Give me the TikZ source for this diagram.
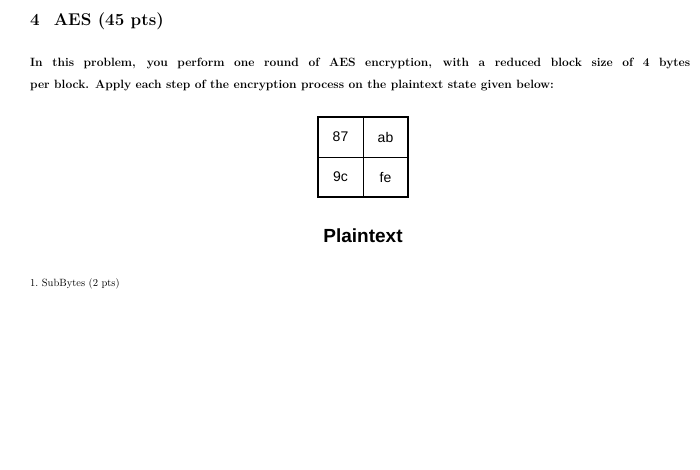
\documentclass[tikz,border=0pt]{standalone}
\usepackage{fontspec}
\newfontfamily\hel{Liberation Sans}
\begin{document}
\begin{tikzpicture}[x=1pt,y=-1pt,
  txt/.style={anchor=west,inner sep=0pt},
  cell/.style={font=\hel\fontsize{14}{16}\selectfont}]
\useasboundingbox (0,0) rectangle (700,469);
\node[txt,font=\bfseries\fontsize{17}{20}\selectfont] (h) at (30,21) {4\hspace{14pt}AES (45 pts)};
\node[txt,font=\bfseries\fontsize{12}{14}\selectfont] (l1) at (30,63) {\makebox[660pt][s]{In this problem, you perform one round of AES encryption, with a reduced block size of 4 bytes}};
\node[txt,font=\bfseries\fontsize{12}{14}\selectfont] (l2) at (30,86) {per block. Apply each step of the encryption process on the plaintext state given below:};
\draw[line width=0.8pt] (363,117) -- (363,197) (318,157) -- (408,157);
\draw[line width=1.8pt] (318,117) rectangle (408,197);
\node[cell] (a) at (340.5,137) {87};
\node[cell] (b) at (385.5,137) {ab};
\node[cell] (c) at (340.5,177) {9c};
\node[cell] (d) at (385.5,177) {fe};
\node[font=\hel\bfseries\fontsize{19}{22}\selectfont] (p) at (363,236) {Plaintext};
\node[txt,font=\fontsize{10.5}{12}\selectfont] (s) at (30,284) {1.\ SubBytes (2 pts)};
\end{tikzpicture}
\end{document}
